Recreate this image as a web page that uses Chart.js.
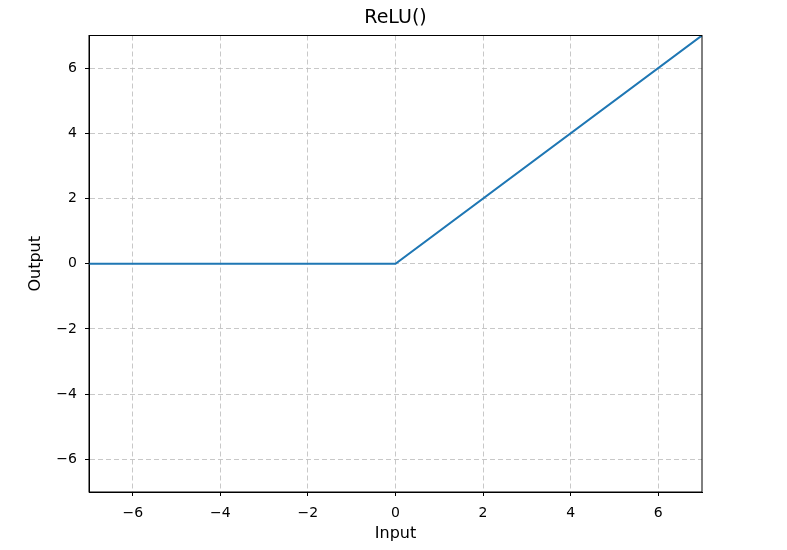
<!DOCTYPE html>
<html>
<head>
<meta charset="utf-8">
<script src="https://cdn.jsdelivr.net/npm/chart.js@4.4.7/dist/chart.umd.js"></script>
<style>
  html, body { margin: 0; padding: 0; background: #fff; }
  #wrap { width: 787px; height: 550px; }
</style>
</head>
<body>
<div id="wrap"><canvas id="c" width="787" height="550"></canvas></div>
<script>
// ReLU curve data
const inputs = [-7, 0, 7];
const outputs = [0, 0, 7];
const xTicks = [-6, -4, -2, 0, 2, 4, 6];
const yTicks = [-6, -4, -2, 0, 2, 4, 6];

const FONT = "'DejaVu Sans', sans-serif";

function fmt(v) {
  return v < 0 ? "\u2212" + Math.abs(v) : String(v);
}

// matplotlib-like frame on all four sides
const frame = {
  id: "frame",
  afterDraw(chart) {
    const a = chart.chartArea;
    const ctx = chart.ctx;
    ctx.save();
    ctx.strokeStyle = "#000";
    ctx.lineWidth = 1;
    ctx.strokeRect(a.left, a.top, a.right - a.left, a.bottom - a.top);
    ctx.restore();
  },
};

const gridCommon = {
  color: "rgba(190,190,190,0.85)",
  lineWidth: 1,
  tickColor: "#000",
  tickLength: 4,
  tickWidth: 1,
  tickBorderDash: [],
};

new Chart(document.getElementById("c"), {
  type: "line",
  data: {
    datasets: [
      {
        data: inputs.map((x, i) => ({ x: x, y: outputs[i] })),
        borderColor: "#1f77b4",
        borderWidth: 2.1,
        pointRadius: 0,
        fill: false,
        tension: 0,
      },
    ],
  },
  options: {
    responsive: false,
    animation: false,
    layout: { padding: { left: 0, right: 85, top: 0, bottom: 0 } },
    plugins: {
      legend: { display: false },
      tooltip: { enabled: false },
      title: {
        display: true,
        fullSize: false,
        text: "ReLU()",
        color: "#000",
        font: { family: FONT, size: 19, weight: "normal" },
        padding: { top: 7, bottom: 5.7 },
      },
    },
    scales: {
      x: {
        type: "linear",
        min: -7,
        max: 7,
        afterBuildTicks: (s) => { s.ticks = xTicks.map((v) => ({ value: v })); },
        afterFit: (s) => { s.height = 58; },
        grid: gridCommon,
        border: { display: true, color: "#000", width: 1, dash: [5, 3] },
        ticks: {
          color: "#000",
          font: { family: FONT, size: 14 },
          padding: 9,
          maxRotation: 0,
          callback: fmt,
        },
        title: {
          display: true,
          text: "Input",
          color: "#000",
          font: { family: FONT, size: 16 },
          padding: { top: 0, bottom: 6.4 },
        },
      },
      y: {
        type: "linear",
        min: -7,
        max: 7,
        afterBuildTicks: (s) => { s.ticks = yTicks.map((v) => ({ value: v })); },
        afterFit: (s) => { s.width = 89; },
        grid: gridCommon,
        border: { display: true, color: "#000", width: 1, dash: [5, 3] },
        ticks: {
          color: "#000",
          font: { family: FONT, size: 14 },
          padding: 8,
          callback: fmt,
        },
        title: {
          display: true,
          text: "Output",
          color: "#000",
          font: { family: FONT, size: 16 },
          padding: { top: 26, bottom: 0 },
        },
      },
    },
  },
  plugins: [frame],
});
</script>
</body>
</html>
